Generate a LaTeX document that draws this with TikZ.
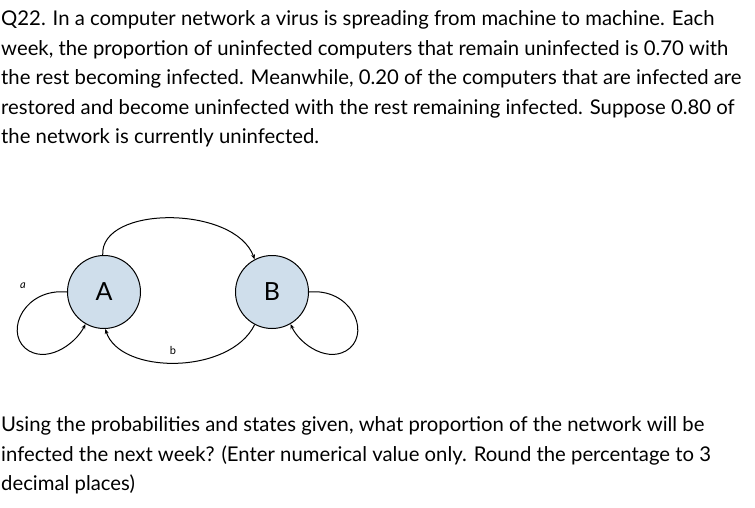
\documentclass[tikz,border=0pt]{standalone}
\usepackage{fontspec}
\setmainfont{Lato}
\usetikzlibrary{arrows.meta}
\definecolor{nodefill}{RGB}{207,222,235}
\begin{document}
\begin{tikzpicture}[x=1pt,y=-1pt,
  st/.style={circle,draw,line width=1pt,fill=nodefill,minimum size=73pt,inner sep=0pt,font=\fontsize{25}{28}\selectfont},
  ed/.style={line width=1pt,-{Stealth[length=5pt,width=4pt]}},
  tx/.style={anchor=base west,inner sep=0pt,font=\fontsize{20.3}{24}\selectfont}]
\useasboundingbox (0,0) rectangle (755,508);
\node[tx] (t1) at (1,26) {Q22. In a computer network a virus is spreading from machine to machine. Each};
\node[tx] (t2) at (1,56) {week, the proportion of uninfected computers that remain uninfected is 0.70 with};
\node[tx] (t3) at (1,85) {the rest becoming infected. Meanwhile, 0.20 of the computers that are infected are};
\node[tx] (t4) at (1,115) {restored and become uninfected with the rest remaining infected. Suppose 0.80 of};
\node[tx] (t5) at (1,144) {the network is currently uninfected.};
\node[tx] (t6) at (1,431) {Using the probabilities and states given, what proportion of the network will be};
\node[tx] (t7) at (1,461) {infected the next week? (Enter numerical value only. Round the percentage to 3};
\node[tx] (t8) at (1,490) {decimal places)};
\node[st] (A) at (104,292) {A};
\node[st] (B) at (272,292) {B};
\draw[ed] (A.92) .. controls (100,205) and (235,205) .. (B.118);
\draw[ed] (B.-118) .. controls (230,375) and (120,375) .. (A.-88);
\draw[ed] (A.180) .. controls (25,288) and (5,330) .. (25,348) .. controls (45,365) and (75,345) .. (A.-120);
\draw[ed] (B.0) .. controls (350,288) and (370,330) .. (350,348) .. controls (330,365) and (300,345) .. (B.-60);
\node[font=\itshape\fontsize{11}{12}\selectfont] (la) at (23,286) {a};
\node[font=\fontsize{11}{12}\selectfont] (lb) at (173,350) {b};
\end{tikzpicture}
\end{document}
